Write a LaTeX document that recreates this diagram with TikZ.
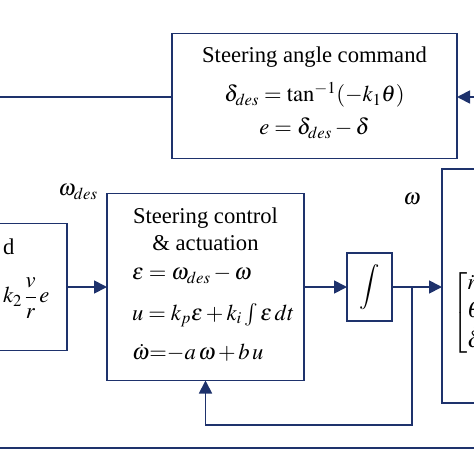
\documentclass[tikz,border=0pt]{standalone}
\usepackage{mathptmx}
\usepackage{fontspec}
\setmainfont{Liberation Serif}
\usetikzlibrary{arrows.meta}
\definecolor{navy}{RGB}{30,50,108}
\begin{document}
\begin{tikzpicture}[x=1pt,y=-1pt,
  font=\fontsize{22.6}{28}\selectfont,
  blk/.style={draw=navy,line width=1.8pt,fill=white,inner sep=0pt,outer sep=0pt},
  conn/.style={draw=navy,line width=1.8pt},
  arr/.style={conn,-{Triangle[length=13pt,width=13pt]}},
  txt/.style={inner sep=0pt,outer sep=0pt}]
\useasboundingbox (0,0) rectangle (474,474);
\clip (0,0) rectangle (474,474);
% blocks
\node[blk,minimum width=285pt,minimum height=125pt] (cmd) at (314.5,96) {};
\node[blk,minimum width=97pt,minimum height=127pt] (lbox) at (18.5,287) {};
\node[blk,minimum width=197pt,minimum height=187pt] (ctl) at (205.5,287) {};
\node[blk,minimum width=45pt,minimum height=68pt] (integ) at (369.5,287) {};
\node[blk,minimum width=60pt,minimum height=234pt] (plant) at (472,286) {};
% texts
\node[txt] (t1) at (314.5,57) {Steering angle command};
\node[txt] (t2) at (314.5,95) {$\delta_{des} = \tan^{-1}(-k_1\theta)$};
\node[txt] (t3) at (314.5,128) {$e=\delta_{des}-\delta$};
\node[txt] (c1) at (205.5,218) {Steering control};
\node[txt] (c2) at (205.5,243) {\& actuation};
\node[txt,anchor=west] (c3) at (132,275) {$\varepsilon=\omega_{des}-\omega$};
\node[txt,anchor=west] (c4) at (132,315) {$u=k_p\varepsilon+k_i\int\varepsilon\,dt$};
\node[txt,anchor=west] (c5) at (132,353) {$\dot\omega{=}{-}a\,\omega\mkern2mu{+}\mkern2mu b\,u$};
\node[txt,anchor=west] (l1) at (3,247) {d};
\node[txt,anchor=west] (l2) at (3,298) {$\displaystyle k_2\,\frac{v}{r}\,e$};
\node[txt] (ig) at (integ.center) {$\displaystyle\int$};
\node[txt,anchor=west] (mx) at (452,313) {$\left[\begin{array}{@{}l}\dot r\\ \dot\theta\\ \dot\delta\end{array}\right.$};
\node[txt] (wdes) at (78,192) {$\omega_{des}$};
\node[txt] (w) at (412,199) {$\omega$};
% connectors
\coordinate (lin) at (0,97);
\coordinate (rin) at (480,97);
\coordinate (fb) at (412,287);
\coordinate (b0) at (0,448);
\coordinate (b1) at (474,448);
\draw[conn] (lin) -- (cmd.west |- lin);
\draw[arr] (rin) -- (cmd.east |- rin);
\draw[arr] (lbox.east) -- (ctl.west);
\draw[arr] (ctl.east) -- (integ.west);
\draw[arr] (integ.east) -- (plant.west |- integ.east);
\draw[arr] (fb) -- ++(0,138) -| (ctl.south);
\draw[conn] (b0) -- (b1);
\end{tikzpicture}
\end{document}
